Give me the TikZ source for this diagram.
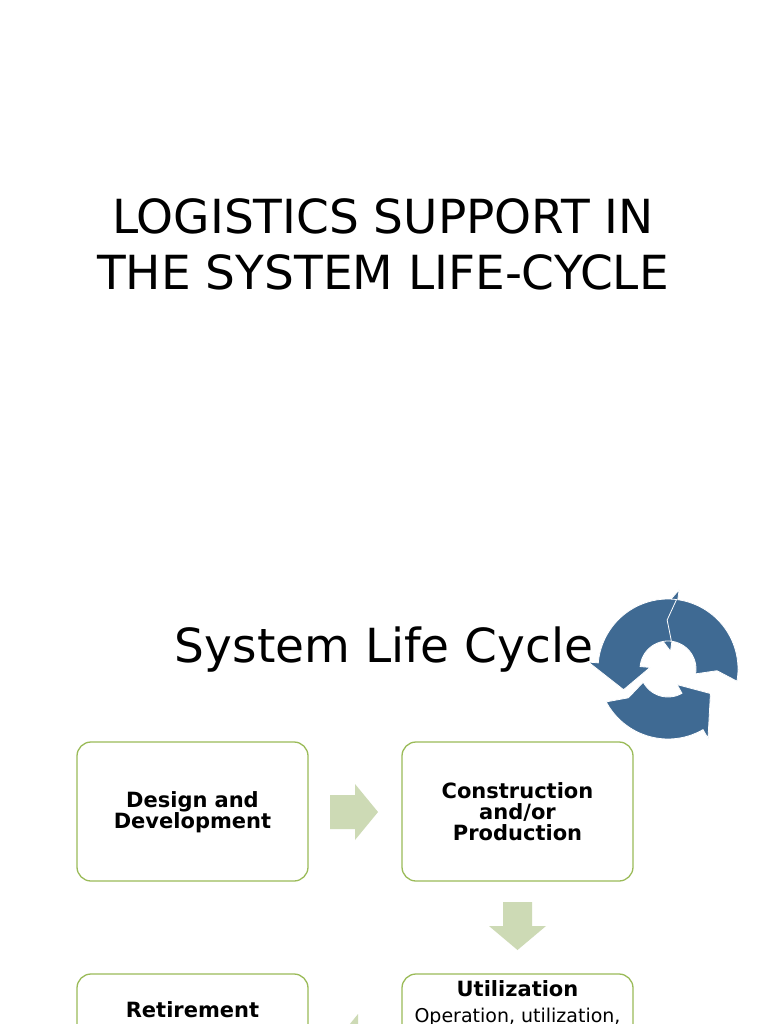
\documentclass[tikz,border=0pt]{standalone}
\usepackage{fontspec}
\setmainfont{DejaVu Sans}
\definecolor{bgreen}{HTML}{9BBB59}
\definecolor{agreen}{HTML}{CDDAB5}
\definecolor{cblue}{HTML}{3F6A93}
\begin{document}
\begin{tikzpicture}[x=1pt,y=-1pt,
  box/.style={draw=bgreen,line width=1.3pt,rounded corners=14pt,fill=white},
  btxt/.style={font=\bfseries\fontsize{21}{23}\selectfont,align=center,text width=220pt},
  garrow/.style={fill=agreen,draw=none}]
\useasboundingbox (0,0) rectangle (768,1024);
\fill[white] (0,0) rectangle (768,1024);
\node (t1) at (383,216) {\fontsize{47}{50}\selectfont LOGISTICS SUPPORT IN};
\node (t2) at (383,272) {\fontsize{47}{50}\selectfont THE SYSTEM LIFE-CYCLE};
\node (t3) at (384,650) {\fontsize{47}{50}\selectfont System Life Cycle};
% cycle icon (counter-clockwise arrows)
\foreach \h in {112,205,330}{
  \fill[cblue,draw=white,line width=0.8pt]
   plot[domain=\h-122:\h-30,samples=30] ({668+70*cos(\x)},{669-70*sin(\x)})
   -- ({668+80*cos(\h-30)},{669-80*sin(\h-30)})
   -- ({668+49*cos(\h)},{669-49*sin(\h)})
   -- ({668+18*cos(\h-30)},{669-18*sin(\h-30)})
   -- plot[domain=\h-30:\h-122,samples=30] ({668+28*cos(\x)},{669-28*sin(\x)})
   -- ({668+49*cos(\h-114)},{669-49*sin(\h-114)}) -- cycle;
}
\draw[box] (77,742) rectangle (308,881);
\node[btxt] (dd) at (192.5,812) {Design and\\[-2pt]Development};
\draw[box] (402,742) rectangle (633,881);
\node[btxt] (cp) at (517.5,812) {Construction\\[-2pt]and/or\\[-2pt]Production};
\draw[box] (77,974) rectangle (308,1060);
\node[btxt] (rt) at (192.5,1010) {Retirement};
\draw[box] (402,974) rectangle (633,1060);
\node[btxt] (ut) at (517.5,989) {Utilization};
\node[font=\fontsize{19}{21}\selectfont] (op) at (517.5,1017) {Operation, utilization,};
% arrows
\fill[garrow] (330,795) -- (355,795) -- (355,784) -- (378,812) -- (355,840) -- (355,829) -- (330,829) -- cycle;
\fill[garrow] (503,902) -- (532,902) -- (532,926) -- (546,926) -- (517.5,950) -- (489,926) -- (503,926) -- cycle;
\fill[garrow] (358,1024) -- (358,1014) -- (345,1030) -- cycle;
\end{tikzpicture}
\end{document}
